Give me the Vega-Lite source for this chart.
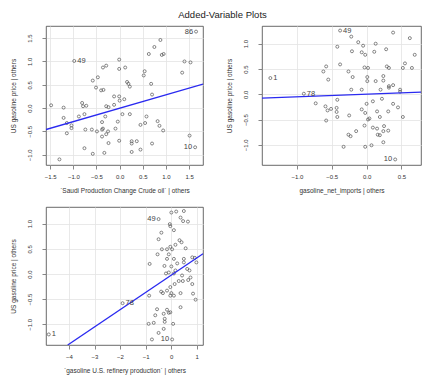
{
  "$schema": "https://vega.github.io/schema/vega-lite/v6.json",
  "padding": {"left": 9, "top": 10, "right": 5, "bottom": 5},
  "background": "white",
  "title": {"text": "Added-Variable Plots", "font": "Liberation Sans", "fontSize": 9.5, "fontWeight": "normal", "color": "#222", "anchor": "middle", "offset": 6, "dx": 7},
  "config": {
    "view": {"stroke": "#444", "strokeWidth": 0.8},
    "axis": {"labelFont": "Liberation Sans", "labelFontSize": 6, "labelColor": "#333", "titleFont": "Liberation Sans", "titleFontSize": 6.5, "titleFontWeight": "normal", "titleColor": "#333", "tickColor": "#555", "tickSize": 4, "tickWidth": 0.7, "domain": false, "gridColor": "#e3e3e3", "gridWidth": 0.8, "labelPadding": 4, "titlePadding": 8},
    "axisY": {"labelAngle": -90, "labelAlign": "center", "labelBaseline": "bottom", "labelPadding": 10, "titlePadding": 10},
    "concat": {"spacing": 21}
  },
  "datasets": {
    "p1": [
      {"x": -1.48, "y": 0.06, "id": ""}, {"x": -1.21, "y": 0.01, "id": ""}, {"x": -1.21, "y": -0.21, "id": ""}, {"x": -1.30, "y": -1.10, "id": ""},
      {"x": -1.14, "y": -0.32, "id": ""}, {"x": -1.04, "y": -0.37, "id": ""}, {"x": -1.04, "y": -0.43, "id": ""}, {"x": -1.14, "y": -0.54, "id": ""},
      {"x": -0.88, "y": -0.18, "id": ""}, {"x": -0.98, "y": 1.01, "id": "49"}, {"x": -0.81, "y": 0.11, "id": ""}, {"x": -0.79, "y": 0.04, "id": ""},
      {"x": -0.72, "y": 0.05, "id": ""}, {"x": -0.76, "y": -0.13, "id": ""}, {"x": -0.74, "y": -0.46, "id": ""}, {"x": -0.76, "y": -0.86, "id": ""},
      {"x": -0.58, "y": 0.59, "id": ""}, {"x": -0.47, "y": 0.66, "id": ""}, {"x": -0.51, "y": 0.44, "id": ""}, {"x": -0.60, "y": -0.46, "id": ""},
      {"x": -0.58, "y": -0.98, "id": ""}, {"x": -0.49, "y": -0.50, "id": ""}, {"x": -0.40, "y": 0.38, "id": ""}, {"x": -0.35, "y": 0.39, "id": ""},
      {"x": -0.36, "y": 0.87, "id": ""}, {"x": -0.29, "y": 0.91, "id": ""}, {"x": -0.38, "y": -0.30, "id": ""}, {"x": -0.38, "y": -0.46, "id": ""},
      {"x": -0.36, "y": -0.44, "id": ""}, {"x": -0.29, "y": 0.04, "id": ""}, {"x": -0.31, "y": -0.18, "id": ""}, {"x": -0.24, "y": 0.02, "id": ""},
      {"x": -0.38, "y": -0.61, "id": ""}, {"x": -0.29, "y": -0.56, "id": ""}, {"x": -0.25, "y": -0.50, "id": ""}, {"x": -0.24, "y": -0.75, "id": ""},
      {"x": -0.33, "y": -0.96, "id": ""}, {"x": -0.12, "y": 0.25, "id": ""}, {"x": -0.12, "y": 0.07, "id": ""}, {"x": -0.09, "y": -0.44, "id": ""},
      {"x": -0.01, "y": 1.04, "id": ""}, {"x": -0.01, "y": 0.84, "id": ""}, {"x": -0.01, "y": 0.25, "id": ""}, {"x": 0.0, "y": 0.16, "id": ""},
      {"x": -0.04, "y": -0.29, "id": ""}, {"x": -0.01, "y": -0.70, "id": ""}, {"x": 0.06, "y": -0.13, "id": ""}, {"x": 0.10, "y": 0.19, "id": ""},
      {"x": 0.12, "y": 0.87, "id": ""}, {"x": 0.16, "y": 0.56, "id": ""}, {"x": 0.19, "y": 0.52, "id": ""}, {"x": 0.22, "y": 0.46, "id": ""},
      {"x": 0.22, "y": -0.13, "id": ""}, {"x": 0.26, "y": -0.94, "id": ""}, {"x": 0.26, "y": -0.71, "id": ""}, {"x": 0.37, "y": -0.71, "id": ""},
      {"x": 0.26, "y": -0.76, "id": ""}, {"x": 0.45, "y": -0.36, "id": ""}, {"x": 0.45, "y": -0.89, "id": ""}, {"x": 0.52, "y": 0.70, "id": ""},
      {"x": 0.54, "y": 0.79, "id": ""}, {"x": 0.55, "y": -0.32, "id": ""}, {"x": 0.58, "y": -0.18, "id": ""}, {"x": 0.63, "y": 1.16, "id": ""},
      {"x": 0.68, "y": 0.52, "id": ""}, {"x": 0.70, "y": 0.29, "id": ""}, {"x": 0.70, "y": -0.76, "id": ""}, {"x": 0.75, "y": 1.31, "id": ""},
      {"x": 0.82, "y": -0.28, "id": ""}, {"x": 0.86, "y": -0.38, "id": ""}, {"x": 0.94, "y": -0.48, "id": ""}, {"x": 0.88, "y": 1.46, "id": ""},
      {"x": 0.91, "y": 1.14, "id": ""}, {"x": 0.95, "y": 1.16, "id": ""}, {"x": 1.35, "y": 0.76, "id": ""}, {"x": 1.40, "y": 1.00, "id": ""},
      {"x": 1.53, "y": 0.98, "id": ""}, {"x": 1.51, "y": -0.59, "id": ""}, {"x": 1.65, "y": 1.64, "id": "86"}, {"x": 1.63, "y": -0.84, "id": "10"}
    ],
    "p2": [
      {"x": -1.38, "y": 0.32, "id": "1"}, {"x": -0.90, "y": 0.01, "id": "78"}, {"x": -0.38, "y": 1.26, "id": "49"}, {"x": 0.41, "y": -1.29, "id": "10"},
      {"x": -0.22, "y": 1.14, "id": ""}, {"x": -0.12, "y": 1.03, "id": ""}, {"x": 0.13, "y": 1.0, "id": ""}, {"x": -0.05, "y": 0.96, "id": ""},
      {"x": -0.42, "y": 0.94, "id": ""}, {"x": -0.21, "y": 0.85, "id": ""}, {"x": -0.07, "y": 0.83, "id": ""}, {"x": -0.02, "y": 0.78, "id": ""},
      {"x": 0.11, "y": 0.84, "id": ""}, {"x": 0.28, "y": 0.89, "id": ""}, {"x": 0.38, "y": 1.22, "id": ""}, {"x": 0.62, "y": 1.11, "id": ""},
      {"x": 0.69, "y": 0.78, "id": ""}, {"x": 0.55, "y": 0.61, "id": ""}, {"x": 0.52, "y": 0.52, "id": ""}, {"x": 0.65, "y": 0.52, "id": ""},
      {"x": -0.38, "y": 0.59, "id": ""}, {"x": -0.58, "y": 0.55, "id": ""}, {"x": -0.62, "y": 0.45, "id": ""}, {"x": -0.55, "y": 0.29, "id": ""},
      {"x": -0.26, "y": 0.45, "id": ""}, {"x": -0.20, "y": 0.34, "id": ""}, {"x": -0.03, "y": 0.53, "id": ""}, {"x": 0.02, "y": 0.52, "id": ""},
      {"x": 0.01, "y": 0.34, "id": ""}, {"x": 0.01, "y": 0.26, "id": ""}, {"x": 0.13, "y": 0.26, "id": ""}, {"x": 0.24, "y": 0.27, "id": ""},
      {"x": 0.24, "y": 0.36, "id": ""}, {"x": 0.29, "y": 0.55, "id": ""}, {"x": 0.32, "y": 0.52, "id": ""}, {"x": 0.32, "y": 0.16, "id": ""},
      {"x": 0.32, "y": 0.13, "id": ""}, {"x": 0.38, "y": 0.18, "id": ""}, {"x": 0.48, "y": 0.09, "id": ""}, {"x": 0.48, "y": 0.05, "id": ""},
      {"x": 0.20, "y": 0.09, "id": ""}, {"x": -0.22, "y": 0.09, "id": ""}, {"x": -0.07, "y": 0.09, "id": ""}, {"x": -0.42, "y": -0.11, "id": ""},
      {"x": -0.73, "y": -0.18, "id": ""}, {"x": -0.59, "y": -0.24, "id": ""}, {"x": -0.56, "y": -0.32, "id": ""}, {"x": -0.51, "y": -0.29, "id": ""},
      {"x": -0.43, "y": -0.27, "id": ""}, {"x": -0.43, "y": -0.35, "id": ""}, {"x": -0.42, "y": -0.45, "id": ""}, {"x": -0.58, "y": -0.52, "id": ""},
      {"x": -0.25, "y": -0.42, "id": ""}, {"x": -0.07, "y": -0.30, "id": ""}, {"x": -0.02, "y": -0.37, "id": ""}, {"x": 0.0, "y": -0.19, "id": ""},
      {"x": 0.09, "y": -0.14, "id": ""}, {"x": 0.22, "y": -0.09, "id": ""}, {"x": 0.04, "y": -0.48, "id": ""}, {"x": 0.02, "y": -0.50, "id": ""},
      {"x": 0.19, "y": -0.45, "id": ""}, {"x": 0.15, "y": -0.34, "id": ""}, {"x": 0.31, "y": -0.34, "id": ""}, {"x": 0.38, "y": -0.19, "id": ""},
      {"x": 0.45, "y": -0.26, "id": ""}, {"x": 0.52, "y": -0.45, "id": ""}, {"x": -0.03, "y": -0.62, "id": ""}, {"x": -0.26, "y": -0.80, "id": ""},
      {"x": -0.23, "y": -0.83, "id": ""}, {"x": -0.15, "y": -0.73, "id": ""}, {"x": 0.09, "y": -0.66, "id": ""}, {"x": 0.15, "y": -0.68, "id": ""},
      {"x": 0.16, "y": -0.80, "id": ""}, {"x": 0.19, "y": -0.81, "id": ""}, {"x": 0.24, "y": -0.73, "id": ""}, {"x": 0.25, "y": -0.63, "id": ""},
      {"x": 0.31, "y": -0.72, "id": ""}, {"x": -0.33, "y": -1.04, "id": ""}, {"x": -0.02, "y": -1.04, "id": ""}, {"x": 0.07, "y": -1.01, "id": ""},
      {"x": 0.24, "y": -0.95, "id": ""}
    ],
    "p3": [
      {"x": -4.79, "y": -1.20, "id": "1"}, {"x": -1.9, "y": -0.58, "id": "78"}, {"x": -0.49, "y": 1.09, "id": "49"}, {"x": 0.04, "y": -1.30, "id": "10"},
      {"x": 0.01, "y": 1.22, "id": ""}, {"x": 0.20, "y": 1.24, "id": ""}, {"x": 0.50, "y": 1.25, "id": ""}, {"x": 0.37, "y": 1.12, "id": ""},
      {"x": 0.47, "y": 1.05, "id": ""}, {"x": 0.66, "y": 1.04, "id": ""}, {"x": -0.05, "y": 0.99, "id": ""}, {"x": -0.03, "y": 0.95, "id": ""},
      {"x": 0.11, "y": 0.87, "id": ""}, {"x": -0.38, "y": 0.82, "id": ""}, {"x": -0.49, "y": 0.69, "id": ""}, {"x": 0.33, "y": 0.67, "id": ""},
      {"x": 0.41, "y": 0.63, "id": ""}, {"x": 0.57, "y": 0.51, "id": ""}, {"x": -0.16, "y": 0.49, "id": ""}, {"x": -0.36, "y": 0.49, "id": ""},
      {"x": -0.03, "y": 0.54, "id": ""}, {"x": 0.04, "y": 0.49, "id": ""}, {"x": 0.17, "y": 0.58, "id": ""}, {"x": -0.53, "y": 0.39, "id": ""},
      {"x": -0.09, "y": 0.39, "id": ""}, {"x": 0.11, "y": 0.30, "id": ""}, {"x": -0.16, "y": 0.30, "id": ""}, {"x": 0.24, "y": 0.21, "id": ""},
      {"x": 0.50, "y": 0.30, "id": ""}, {"x": 0.50, "y": 0.23, "id": ""}, {"x": 0.83, "y": 0.33, "id": ""}, {"x": 0.93, "y": 0.32, "id": ""},
      {"x": 0.99, "y": 0.23, "id": ""}, {"x": -0.84, "y": 0.20, "id": ""}, {"x": -0.26, "y": 0.16, "id": ""}, {"x": 0.01, "y": 0.15, "id": ""},
      {"x": -0.20, "y": 0.01, "id": ""}, {"x": -0.09, "y": 0.03, "id": ""}, {"x": 0.17, "y": 0.07, "id": ""}, {"x": 0.11, "y": 0.01, "id": ""},
      {"x": 0.63, "y": 0.10, "id": ""}, {"x": 0.43, "y": -0.03, "id": ""}, {"x": 0.72, "y": 0.07, "id": ""}, {"x": 0.76, "y": -0.07, "id": ""},
      {"x": 0.30, "y": -0.14, "id": ""}, {"x": 0.46, "y": -0.14, "id": ""}, {"x": 0.67, "y": -0.12, "id": ""}, {"x": 0.83, "y": -0.20, "id": ""},
      {"x": 0.14, "y": -0.20, "id": ""}, {"x": -0.03, "y": -0.26, "id": ""}, {"x": -0.16, "y": -0.33, "id": ""}, {"x": -0.39, "y": -0.35, "id": ""},
      {"x": -0.32, "y": -0.38, "id": ""}, {"x": 0.01, "y": -0.38, "id": ""}, {"x": 0.11, "y": -0.43, "id": ""}, {"x": -0.03, "y": -0.43, "id": ""},
      {"x": 0.37, "y": -0.38, "id": ""}, {"x": -0.86, "y": -0.43, "id": ""}, {"x": 0.86, "y": -0.39, "id": ""}, {"x": 0.96, "y": -0.51, "id": ""},
      {"x": 0.37, "y": -0.66, "id": ""}, {"x": -0.55, "y": -0.70, "id": ""}, {"x": -0.16, "y": -0.71, "id": ""}, {"x": -0.62, "y": -0.82, "id": ""},
      {"x": -0.29, "y": -0.79, "id": ""}, {"x": -0.09, "y": -0.77, "id": ""}, {"x": -0.03, "y": -0.76, "id": ""}, {"x": -0.88, "y": -0.99, "id": ""},
      {"x": -0.68, "y": -0.97, "id": ""}, {"x": -0.25, "y": -0.89, "id": ""}, {"x": -0.25, "y": -0.95, "id": ""}, {"x": -0.29, "y": -1.09, "id": ""},
      {"x": -0.49, "y": -1.17, "id": ""}, {"x": 0.08, "y": -0.99, "id": ""}, {"x": -0.75, "y": -1.30, "id": ""}
    ],
    "l1": [{"x": -1.59, "y": -0.46}, {"x": 1.80, "y": 0.515}],
    "l2": [{"x": -1.50, "y": -0.075}, {"x": 0.78, "y": 0.04}],
    "l3": [{"x": -4.05, "y": -1.41}, {"x": 1.25, "y": 0.40}]
  },
  "vconcat": [
    {
      "hconcat": [
        {
          "width": 157, "height": 139,
          "encoding": {
            "x": {"field": "x", "type": "quantitative", "scale": {"domain": [-1.59, 1.80], "nice": false, "zero": false}, "axis": {"values": [-1.5, -1, -0.5, 0, 0.5, 1, 1.5], "format": ".1f", "title": "`Saudi Production Change Crude oil` | others"}},
            "y": {"field": "y", "type": "quantitative", "scale": {"domain": [-1.22, 1.76], "nice": false, "zero": false}, "axis": {"values": [-1, -0.5, 0, 0.5, 1, 1.5], "format": ".1f", "title": "US gasoline price | others"}}
          },
          "layer": [
            {"data": {"name": "p1"}, "mark": {"type": "point", "shape": "circle", "filled": false, "size": 9, "strokeWidth": 0.7, "color": "#555", "opacity": 1}},
            {"data": {"name": "l1"}, "mark": {"type": "line", "color": "#2a2af0", "strokeWidth": 1.3, "clip": true}},
            {"data": {"name": "p1"}, "transform": [{"filter": "datum.id != '' && datum.x > 0.1"}], "mark": {"type": "text", "align": "right", "baseline": "middle", "dx": -3, "font": "Liberation Sans", "fontSize": 7.5, "color": "#444"}, "encoding": {"text": {"field": "id"}}},
            {"data": {"name": "p1"}, "transform": [{"filter": "datum.id != '' && datum.x <= 0.1"}], "mark": {"type": "text", "align": "left", "baseline": "middle", "dx": 3, "font": "Liberation Sans", "fontSize": 7.5, "color": "#444"}, "encoding": {"text": {"field": "id"}}}
          ]
        },
        {
          "width": 159, "height": 139,
          "encoding": {
            "x": {"field": "x", "type": "quantitative", "scale": {"domain": [-1.5, 0.78], "nice": false, "zero": false}, "axis": {"values": [-1, -0.5, 0, 0.5], "format": ".1f", "title": "gasoline_net_imports | others"}},
            "y": {"field": "y", "type": "quantitative", "scale": {"domain": [-1.40, 1.35], "nice": false, "zero": false}, "axis": {"values": [-1, -0.5, 0, 0.5, 1], "format": ".1f", "title": "US gasoline price | others"}}
          },
          "layer": [
            {"data": {"name": "p2"}, "mark": {"type": "point", "shape": "circle", "filled": false, "size": 9, "strokeWidth": 0.7, "color": "#555", "opacity": 1}},
            {"data": {"name": "l2"}, "mark": {"type": "line", "color": "#2a2af0", "strokeWidth": 1.3, "clip": true}},
            {"data": {"name": "p2"}, "transform": [{"filter": "datum.id != '' && datum.x > -0.36"}], "mark": {"type": "text", "align": "right", "baseline": "middle", "dx": -3, "font": "Liberation Sans", "fontSize": 7.5, "color": "#444"}, "encoding": {"text": {"field": "id"}}},
            {"data": {"name": "p2"}, "transform": [{"filter": "datum.id != '' && datum.x <= -0.36"}], "mark": {"type": "text", "align": "left", "baseline": "middle", "dx": 3, "font": "Liberation Sans", "fontSize": 7.5, "color": "#444"}, "encoding": {"text": {"field": "id"}}}
          ]
        }
      ]
    },
    {
      "width": 157, "height": 138,
      "encoding": {
        "x": {"field": "x", "type": "quantitative", "scale": {"domain": [-4.9, 1.25], "nice": false, "zero": false}, "axis": {"values": [-4, -3, -2, -1, 0, 1], "format": "d", "title": "`gasoline U.S. refinery production` | others"}},
        "y": {"field": "y", "type": "quantitative", "scale": {"domain": [-1.41, 1.33], "nice": false, "zero": false}, "axis": {"values": [-1, -0.5, 0, 0.5, 1], "format": ".1f", "title": "US gasoline price | others"}}
      },
      "layer": [
        {"data": {"name": "p3"}, "mark": {"type": "point", "shape": "circle", "filled": false, "size": 9, "strokeWidth": 0.7, "color": "#555", "opacity": 1}},
        {"data": {"name": "l3"}, "mark": {"type": "line", "color": "#2a2af0", "strokeWidth": 1.3, "clip": true}},
        {"data": {"name": "p3"}, "transform": [{"filter": "datum.id != '' && datum.x > -1.8"}], "mark": {"type": "text", "align": "right", "baseline": "middle", "dx": -3, "font": "Liberation Sans", "fontSize": 7.5, "color": "#444"}, "encoding": {"text": {"field": "id"}}},
        {"data": {"name": "p3"}, "transform": [{"filter": "datum.id != '' && datum.x <= -1.8"}], "mark": {"type": "text", "align": "left", "baseline": "middle", "dx": 3, "font": "Liberation Sans", "fontSize": 7.5, "color": "#444"}, "encoding": {"text": {"field": "id"}}}
      ]
    }
  ],
  "spacing": 12
}
